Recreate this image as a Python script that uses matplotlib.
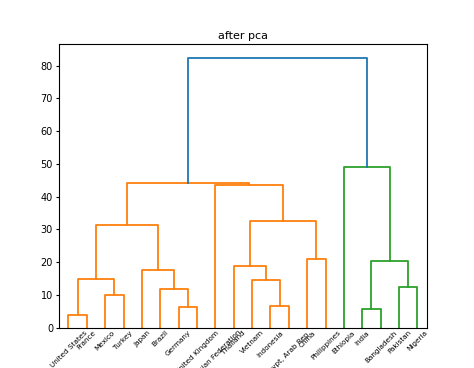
import numpy as np
import matplotlib
matplotlib.use("Agg")
import matplotlib.pyplot as plt

# leaves in dendrogram order
LEAVES = ["United States", "France", "Mexico", "Turkey", "Japan", "Brazil",
          "Germany", "United Kingdom", "Russian Federation", "Thailand",
          "Vietnam", "Indonesia", "Egypt, Arab Rep.", "China", "Philippines",
          "Ethiopia", "India", "Bangladesh", "Pakistan", "Nigeria"]

# merges, scipy-style: new node id = len(LEAVES) + row index
LEFT = [0, 2, 20, 6, 5, 4, 22, 11, 10, 9, 13, 29, 8, 26, 16, 18, 34, 15, 33]
RIGHT = [1, 3, 21, 7, 23, 24, 25, 12, 27, 28, 14, 30, 31, 32, 17, 19, 35, 36, 37]
HEIGHT = [3.8, 10.0, 14.9, 6.3, 11.8, 17.7, 31.2, 6.5, 14.4, 18.9, 20.9,
          32.6, 43.4, 44.0, 5.7, 12.4, 20.2, 49.0, 82.4]

n = len(LEAVES)
xpos = {i: 5 + 10 * i for i in range(n)}
ypos = {i: 0.0 for i in range(n)}
for k, (a, b, h) in enumerate(zip(LEFT, RIGHT, HEIGHT)):
    xpos[n + k] = (xpos[a] + xpos[b]) / 2
    ypos[n + k] = h

# colour clusters below the threshold, like scipy does
thresh = 0.7 * max(HEIGHT)
palette = ["C1", "C2", "C3", "C4"]
children = {n + k: (a, b) for k, (a, b) in enumerate(zip(LEFT, RIGHT))}
link_col = {}


def paint(node, col):
    if node < n:
        return
    link_col[node] = col
    for c in children[node]:
        paint(c, col)


ci = 0
for node in range(2 * n - 2, n - 1, -1):
    if ypos[node] >= thresh:
        link_col[node] = "C0"
        for c in children[node]:
            if c >= n and ypos[c] < thresh:
                paint(c, palette[ci])
                ci += 1

fig, ax = plt.subplots(figsize=(4.74, 3.68), dpi=100)
for k in range(len(HEIGHT)):
    node = n + k
    a, b = LEFT[k], RIGHT[k]
    ax.plot([xpos[a], xpos[a], xpos[b], xpos[b]],
            [ypos[a], HEIGHT[k], HEIGHT[k], ypos[b]],
            color=link_col[node], lw=1.3)

ax.set_xlim(0, 10 * n)
ax.set_ylim(0, max(HEIGHT) * 1.05)
ax.set_xticks([xpos[i] for i in range(n)])
ax.set_xticklabels(LEAVES, rotation=45, fontsize=5.2)
ax.tick_params(axis="x", length=0, pad=1.5)
ax.tick_params(axis="y", labelsize=7, length=2.5, pad=2)
ax.set_yticks(np.arange(0, 81, 10))
ax.set_title("after pca", fontsize=8, pad=4)
fig.subplots_adjust(left=0.125, right=0.9, top=0.88, bottom=0.11)
fig.savefig("out.png", dpi=100)
